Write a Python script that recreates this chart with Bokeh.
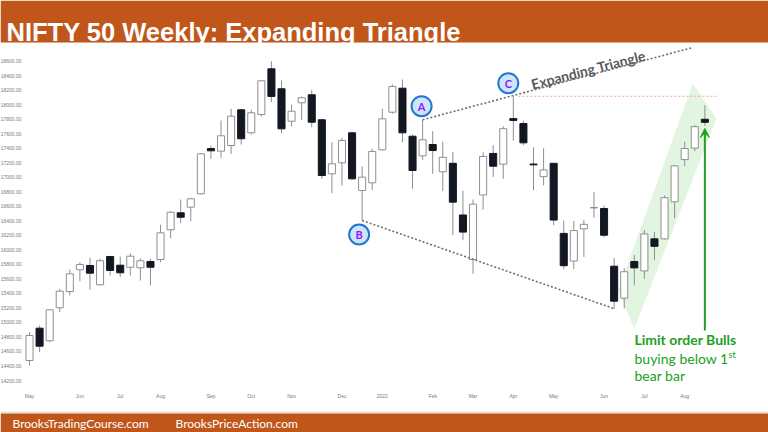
from bokeh.plotting import figure
from bokeh.models import Range1d, FixedTicker, NumeralTickFormatter, Arrow, VeeHead, LinearAxis
from bokeh.core.properties import value
from bokeh.embed import file_html
from bokeh.resources import INLINE

# ---------------- data (weekly candles, May 2021 - Aug 2022) ----------------
opens = [14476, 14921, 14747, 15202, 15426, 15726, 15785, 15519, 15909, 15789,
         15761, 15753, 15840, 15867, 16277, 16511, 16588, 16773, 17397, 17360,
         17438, 17930, 17613, 17866, 18495, 18220, 17773, 18027, 18137, 17793,
         17048, 17200, 17613, 16818, 16924, 17379, 17897, 18228, 17566, 17296,
         17452, 17076, 17193, 16481, 15867, 16757, 17329, 17181, 17809, 17741,
         17183, 17009, 17193, 16227, 15846, 16290, 16578, 16570, 15775, 15335,
         15839, 15710, 16152, 16152, 16662, 17244, 17402, 17800]
highs = [14866, 14958, 15178, 15464, 15730, 15830, 15891, 15878, 15915, 15909,
         15954, 15885, 15877, 16346, 16533, 16694, 16718, 17333, 17438, 17783,
         17944, 17940, 17930, 18344, 18600, 18334, 18003, 18114, 18206, 17800,
         17484, 17544, 17631, 17149, 17393, 17944, 18279, 18348, 17590, 17793,
         17635, 17490, 17351, 16815, 16694, 17344, 17442, 17703, 18115, 17779,
         17414, 17400, 17194, 16404, 16399, 16415, 16794, 16610, 15886, 15749,
         15928, 16275, 16248, 16752, 17172, 17490, 17719, 17992]
lows = [14407, 14590, 14728, 15141, 15371, 15568, 15450, 15509, 15647, 15624,
        15647, 15578, 15509, 15830, 16161, 16368, 16395, 16764, 17255, 17269,
        17324, 17452, 17590, 17838, 18035, 17608, 17700, 17793, 17691, 16979,
        16781, 16887, 16966, 16405, 16828, 17369, 17875, 17484, 16842, 17241,
        17048, 16810, 16203, 16133, 15671, 16555, 17006, 16979, 17505, 17442,
        16824, 16889, 16340, 15736, 15735, 15903, 16444, 16172, 15183, 15191,
        15511, 15601, 15858, 16143, 16438, 17154, 17359, 17710]
closes = [14820, 14673, 15174, 15431, 15670, 15799, 15679, 15850, 15716, 15684,
          15913, 15850, 15761, 16235, 16519, 16450, 16704, 17324, 17365, 17572,
          17842, 17531, 17889, 18330, 18114, 17668, 17911, 18096, 17759, 17025,
          17186, 17507, 16979, 17002, 17356, 17806, 18251, 17613, 17094, 17517,
          17369, 17276, 16658, 16245, 16630, 17287, 17153, 17670, 17784, 17475,
          17172, 17102, 16411, 15782, 16266, 16352, 16584, 16202, 15293, 15699,
          15752, 16220, 16049, 16719, 17158, 17397, 17698, 17758]

month_tick_index = [0, 5, 9, 13, 18, 22, 26, 31, 35, 40, 44, 48, 52, 57, 61, 65]
month_tick_labels = ["May", "Jun", "Jul", "Aug", "Sep", "Oct", "Nov", "Dec",
                     "2022", "Feb", "Mar", "Apr", "May", "Jun", "Jul", "Aug"]
price_ticks = list(range(14200, 18601, 200))

# annotations
point_labels = ["A", "B", "C"]
point_x = [38.9, 32.7, 47.5]
point_y = [17980, 16212, 18297]
upper_line_x = [39, 65.7]
upper_line_y = [17793, 18785]
lower_line_x = [33, 58]
lower_line_y = [16405, 15190]
resistance_x = [48.5, 68.2]
resistance_y = [18115, 18115]
channel_x = [60.0, 58.4, 65.8, 68.15]
channel_y = [14917, 15440, 18293, 17810]
arrow_x = 67
arrow_y = [14889, 17673]

TITLE = "NIFTY 50 Weekly: Expanding Triangle"
ORANGE = "#C1561B"
GREEN = "#22a022"

# pixel <-> data helpers for the page layout (x index, price)
PX_PER_BAR = 10.08
X0_PX = 29.0
PRICE_PER_PX = 13.78
Y_REF_PX, Y_REF_VAL = 60.7, 18600.0


def dx(px):
    return (px - X0_PX) / PX_PER_BAR


def dy(py):
    return Y_REF_VAL - (py - Y_REF_PX) * PRICE_PER_PX


p = figure(width=768, height=432, x_range=Range1d(dx(0), dx(768)),
           y_range=Range1d(dy(432), dy(0)), toolbar_location=None,
           output_backend="svg", min_border=0,
           x_axis_location=None, y_axis_location=None)
p.grid.visible = False
p.outline_line_color = None
p.background_fill_color = "white"
p.border_fill_color = "white"

# title band and footer band
p.quad(left=[dx(0)], right=[dx(768)], bottom=[dy(42)], top=[dy(0)],
       fill_color=ORANGE, line_color=None)
p.quad(left=[dx(0)], right=[dx(768)], bottom=[dy(413)], top=[dy(411)],
       fill_color="#e2e2e2", line_color=None)
p.quad(left=[dx(0)], right=[dx(768)], bottom=[dy(432)], top=[dy(413)],
       fill_color=ORANGE, line_color=None)
p.text(x=[dx(6)], y=[dy(31)], text=[TITLE], text_font=value("Liberation Sans"),
       text_font_style="bold", text_font_size="25.5px", text_color="white",
       text_baseline="alphabetic", text_align="left")
p.text(x=[dx(12), dx(175)], y=[dy(423), dy(423)],
       text=["BrooksTradingCourse.com", "BrooksPriceAction.com"],
       text_font=value("Lato"), text_font_size="12px", text_color="white",
       text_align="left", text_baseline="middle")

idx = list(range(len(opens)))
up = [c >= o for o, c in zip(opens, closes)]
tops = [max(o, c) for o, c in zip(opens, closes)]
bots = [min(o, c) for o, c in zip(opens, closes)]

# trend channel
p.patch(channel_x, channel_y, fill_color="#cdeecd", fill_alpha=0.6, line_color=None)
# resistance at C
p.line(resistance_x, resistance_y, line_color="#f2b8b8", line_width=1.2, line_dash="2 2")
# wicks
p.segment(x0=idx, y0=lows, x1=idx, y1=highs, line_color="#8f8f8f", line_width=1)
# bodies
ux = [i for i in idx if up[i]]
dn = [i for i in idx if not up[i]]
p.vbar(x=ux, width=0.7, top=[tops[i] for i in ux], bottom=[bots[i] for i in ux],
       fill_color="white", line_color="#8f8f8f", line_width=1)
p.vbar(x=dn, width=0.7, top=[tops[i] for i in dn], bottom=[bots[i] for i in dn],
       fill_color="#131722", line_color="#131722", line_width=1)
# triangle lines
p.line(upper_line_x, upper_line_y, line_color="#707070", line_width=1.6, line_dash="2 2")
p.line(lower_line_x, lower_line_y, line_color="#707070", line_width=1.6, line_dash="2 2")
p.text(x=[49.8], y=[18279], text=["Expanding Triangle"], angle=0.255,
       text_font=value("Lato"), text_font_style="bold", text_font_size="14px",
       text_color="#5a5a5a", text_baseline="alphabetic", text_align="left")
# A B C markers
p.scatter(point_x, point_y, size=20, fill_color="#cfe4fb", line_color="#1f77d0", line_width=2)
p.text(x=point_x, y=point_y, text=point_labels, text_font=value("Lato"),
       text_font_style="bold", text_font_size="11px", text_color="#8a1cff",
       text_align="center", text_baseline="middle")
# arrow
p.add_layout(Arrow(end=VeeHead(size=9, line_color=GREEN, fill_color=GREEN),
                   x_start=arrow_x, y_start=arrow_y[0], x_end=arrow_x, y_end=arrow_y[1],
                   line_color=GREEN, line_width=2))
p.text(x=[60.02], y=[14765], text=["Limit order Bulls"], text_font=value("Lato"),
       text_font_style="bold", text_font_size="14px", text_color=GREEN,
       text_align="left", text_baseline="middle")
p.text(x=[60.02, 60.02], y=[14503, 14269], text=["buying below 1", "bear bar"],
       text_font=value("Lato"), text_font_size="14px", text_color=GREEN,
       text_align="left", text_baseline="middle")
p.text(x=[dx(728)], y=[14558], text=["st"], text_font=value("Lato"),
       text_font_size="9px", text_color=GREEN, text_align="left", text_baseline="middle")

# axes drawn at fixed locations inside the full-canvas frame
xaxis = LinearAxis(fixed_location=dy(387), ticker=FixedTicker(ticks=month_tick_index),
                   major_label_overrides={i: lab for i, lab in zip(month_tick_index, month_tick_labels)})
yaxis = LinearAxis(fixed_location=dx(24), ticker=FixedTicker(ticks=price_ticks),
                   formatter=NumeralTickFormatter(format="0.00"))
for ax in (xaxis, yaxis):
    ax.axis_line_color = None
    ax.major_tick_line_color = None
    ax.minor_tick_line_color = None
    ax.major_tick_out = 0
    ax.major_tick_in = 0
    ax.minor_tick_out = 0
    ax.minor_tick_in = 0
    ax.major_label_text_color = "#7a7a7a"
    ax.major_label_text_font = "Liberation Sans"
    ax.major_label_text_font_size = "5px"
xaxis.major_label_standoff = 5
yaxis.major_label_standoff = 3
p.add_layout(xaxis, "below")
p.add_layout(yaxis, "left")

open("out.html", "w").write(file_html(p, INLINE))
